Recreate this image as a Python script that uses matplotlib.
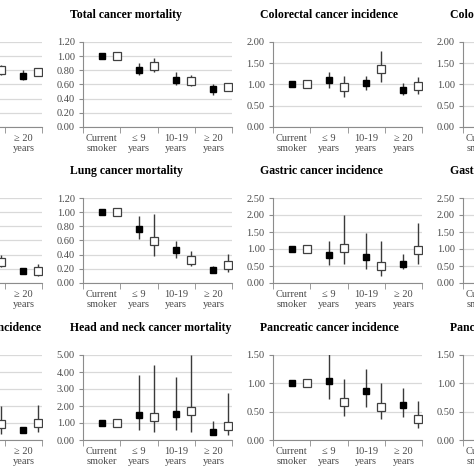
import numpy as np
import matplotlib
matplotlib.use("Agg")
import matplotlib.pyplot as plt

plt.rcParams['font.family'] = ['Liberation Serif', 'DejaVu Serif']

nan = np.nan

# x categories
categories = ["Current\nsmoker", "\u2264 9\nyears", "10-19\nyears", "\u2265 20\nyears"]

# panel titles, row by row (outer columns are cut by the crop)
titles = [
    ["Total cancer incidence", "Total cancer mortality",
     "Colorectal cancer incidence", "Colorectal cancer mortality"],
    ["Lung cancer incidence", "Lung cancer mortality",
     "Gastric cancer incidence", "Gastric cancer mortality"],
    ["Head and neck cancer incidence", "Head and neck cancer mortality",
     "Pancreatic cancer incidence", "Pancreatic cancer mortality"],
]

# y axis max and step per panel
ymax = [[1.2, 1.2, 2.0, 2.0],
        [1.2, 1.2, 2.5, 2.5],
        [5.0, 5.0, 1.5, 1.5]]
ystep = [[0.2, 0.2, 0.5, 0.5],
         [0.2, 0.2, 0.5, 0.5],
         [1.0, 1.0, 0.5, 0.5]]

# filled squares: estimate, lower, upper  (nan = outside the visible crop)
filled_est = [
    [[1.00, nan, nan, 0.72], [1.00, 0.80, 0.67, 0.53], [1.00, 1.10, 1.03, 0.87], [1.00, nan, nan, nan]],
    [[1.00, nan, nan, 0.17], [1.00, 0.76, 0.46, 0.19], [1.00, 0.81, 0.76, 0.56], [1.00, nan, nan, nan]],
    [[1.00, nan, nan, 0.58], [1.00, 1.48, 1.54, 0.47], [1.00, 1.04, 0.86, 0.61], [1.00, nan, nan, nan]],
]
filled_lo = [
    [[nan, nan, nan, 0.66], [nan, 0.73, 0.59, 0.45], [nan, 0.92, 0.87, 0.75], [nan] * 4],
    [[nan, nan, nan, 0.14], [nan, 0.62, 0.35, 0.15], [nan, 0.52, 0.40, 0.40], [nan] * 4],
    [[nan, nan, nan, 0.50], [nan, 0.56, 0.60, 0.27], [nan, 0.72, 0.59, 0.40], [nan] * 4],
]
filled_hi = [
    [[nan, nan, nan, 0.80], [nan, 0.90, 0.78, 0.61], [nan, 1.30, 1.21, 1.03], [nan] * 4],
    [[nan, nan, nan, 0.21], [nan, 0.94, 0.59, 0.24], [nan, 1.25, 1.48, 0.84], [nan] * 4],
    [[nan, nan, nan, 0.68], [nan, 3.85, 3.72, 1.09], [nan, 1.52, 1.26, 0.91], [nan] * 4],
]

# open squares
open_est = [
    [[1.00, nan, 0.80, 0.77], [1.00, 0.86, 0.65, 0.56], [1.00, 0.94, 1.37, 0.97], [1.00, nan, nan, nan]],
    [[1.00, nan, 0.30, 0.17], [1.00, 0.59, 0.33, 0.25], [1.00, 1.03, 0.49, 0.96], [1.00, nan, nan, nan]],
    [[1.00, nan, 0.92, 0.98], [1.00, 1.36, 1.73, 0.84], [1.00, 0.67, 0.58, 0.37], [1.00, nan, nan, nan]],
]
open_lo = [
    [[nan, nan, 0.74, 0.72], [nan, 0.78, 0.58, 0.52], [nan, 0.71, 1.07, 0.78], [nan] * 4],
    [[nan, nan, 0.22, 0.10], [nan, 0.38, 0.24, 0.16], [nan, 0.55, 0.21, 0.55], [nan] * 4],
    [[nan, nan, 0.35, 0.45], [nan, 0.47, 0.47, 0.27], [nan, 0.43, 0.37, 0.21], [nan] * 4],
]
open_hi = [
    [[nan, nan, 0.87, 0.82], [nan, 0.97, 0.74, 0.62], [nan, 1.21, 1.79, 1.17], [nan] * 4],
    [[nan, nan, 0.40, 0.27], [nan, 0.98, 0.45, 0.41], [nan, 2.01, 1.25, 1.75], [nan] * 4],
    [[nan, nan, 2.00, 2.05], [nan, 4.40, 4.98, 2.74], [nan, 1.07, 1.00, 0.68], [nan] * 4],
]

W = H = 474.0
col_x = [-107, 83, 273, 463]
row_top = [42, 198, 355]
ax_w, ax_h = 149, 85

fig = plt.figure(figsize=(4.74, 4.74), dpi=100)
fig.patch.set_facecolor("white")

grid_c = "#d9d9d9"
spine_c = "#8c8c8c"
bar_c = "#3a3a3a"
txt_c = "#4a4a4a"
x = np.arange(4)

for r in range(3):
    for c in range(4):
        ax = fig.add_axes([col_x[c] / W, 1 - (row_top[r] + ax_h) / H, ax_w / W, ax_h / H])
        ax.set_xlim(-0.5, 3.5)
        ax.set_ylim(0, ymax[r][c])
        yt = np.arange(0, ymax[r][c] + 1e-9, ystep[r][c])
        ax.set_yticks(yt)
        ax.set_yticklabels(["%.2f" % v for v in yt], fontsize=7.5, color=txt_c)
        ax.yaxis.grid(True, color=grid_c, lw=0.9)
        ax.set_axisbelow(True)
        for s in ["top", "right"]:
            ax.spines[s].set_visible(False)
        ax.spines["left"].set_color(spine_c)
        ax.spines["bottom"].set_color(spine_c)
        ax.tick_params(axis="y", length=3, color=spine_c, pad=3)
        ax.set_xticks(x)
        ax.set_xticklabels(categories, fontsize=7.5, color=txt_c, linespacing=1.2)
        ax.set_xticks(np.arange(-0.5, 4, 1), minor=True)
        ax.tick_params(axis="x", which="major", length=0, pad=5)
        ax.tick_params(axis="x", which="minor", length=4, color=spine_c)

        fe = np.array(filled_est[r][c])
        fl = np.array(filled_lo[r][c])
        fh = np.array(filled_hi[r][c])
        oe = np.array(open_est[r][c])
        ol = np.array(open_lo[r][c])
        oh = np.array(open_hi[r][c])

        ax.vlines(x, fl, fh, color=bar_c, lw=1.0, zorder=3)
        ax.vlines(x + 0.4, ol, oh, color=bar_c, lw=1.0, zorder=3)
        ax.plot(x, fe, ls="none", marker="s", ms=4.4, mfc="black", mec="black", zorder=4)
        ax.plot(x + 0.4, oe, ls="none", marker="s", ms=5.2, mfc="white", mec="#404040",
                mew=0.9, zorder=4)

        fig.text((col_x[c] - 13) / W, 1 - (row_top[r] - 27) / H, titles[r][c],
                 fontsize=8.5, fontweight="bold", ha="left", va="center")

fig.savefig("out.png", dpi=100, facecolor="white")
